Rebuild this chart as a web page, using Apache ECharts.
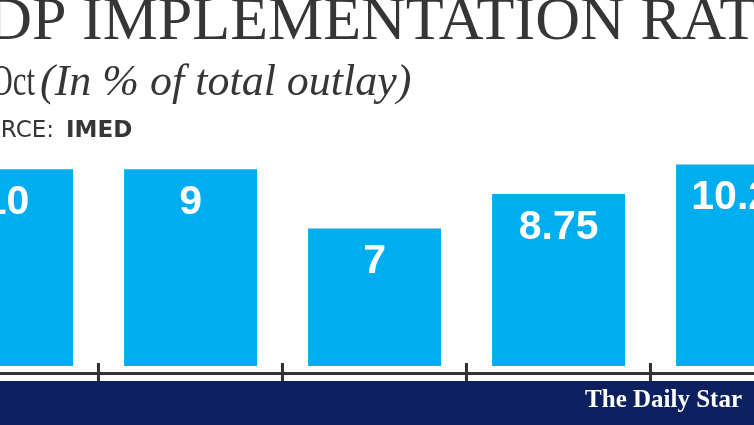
<!DOCTYPE html>
<html><head><meta charset="utf-8">
<script src="https://cdn.jsdelivr.net/npm/echarts@6/dist/echarts.min.js"></script>
<style>html,body{margin:0;padding:0;background:#fff}#c{width:754px;height:425px}</style>
</head><body><div id="c"></div>
<script>
// Data
const categories = ['P1', 'P2', 'P3', 'P4', 'P5'];
const barValues = [10, 10, 7, 8.75, 10.25];          // bar lengths as drawn
const valueLabels = ['10', '9', '7', '8.75', '10.25']; // printed values
const titleText = 'ADP IMPLEMENTATION RATE';
const periodText = 'Jul-Oct';
const unitText = '(In % of total outlay)';
const sourceLabel = 'SOURCE:';
const sourceName = 'IMED';
const brandText = 'The Daily Star';

const chart = echarts.init(document.getElementById('c'), null, {renderer: 'canvas'});
chart.setOption({
  animation: false,
  grid: {left: -85.4, width: 920, top: 130, bottom: 52, outerBoundsMode: 'none', containLabel: false},
  xAxis: [
    {type: 'category', data: categories, position: 'bottom',
     axisLine: {show: true, onZero: false, lineStyle: {color: '#333', width: 3}},
     axisTick: {show: true, inside: true, length: 10, lineStyle: {color: '#333', width: 3}},
     axisLabel: {show: false}, splitLine: {show: false}},
    {type: 'category', data: categories, position: 'bottom',
     axisLine: {show: false, onZero: false},
     axisTick: {show: true, inside: false, length: 9, lineStyle: {color: '#333', width: 3}},
     axisLabel: {show: false}, splitLine: {show: false}}
  ],
  yAxis: {type: 'value', min: -0.35, max: 12, show: false},
  series: [{
    type: 'bar', data: barValues, barWidth: 133, xAxisIndex: 0,
    itemStyle: {color: '#00aeef'},
    label: {show: true, position: 'insideTop', distance: 13, color: '#fff',
      fontFamily: '"Liberation Sans"', fontWeight: 'bold', fontSize: 41,
      formatter: p => valueLabels[p.dataIndex]}
  }],
  graphic: [
    {type: 'rect', shape: {x: 0, y: 381, width: 754, height: 44}, style: {fill: '#0c2060'}, z: 10},
    {type: 'text', x: -57.5, y: 23, style: {text: titleText, font: '62px "Liberation Serif"', fill: '#363636', align: 'left', verticalAlign: 'middle'}},
    {type: 'text', x: 35, y: 83, scaleX: 0.7, style: {text: periodText, font: '44px "Liberation Serif"', fill: '#363636', align: 'right', verticalAlign: 'middle'}},
    {type: 'text', x: 40, y: 83, style: {text: unitText, font: 'italic 44px "Liberation Serif"', fill: '#363636', align: 'left', verticalAlign: 'middle'}},
    {type: 'text', x: 54, y: 131, style: {text: sourceLabel, font: '23px "DejaVu Sans"', fill: '#363636', align: 'right', verticalAlign: 'middle'}},
    {type: 'text', x: 66, y: 131, style: {text: sourceName, font: 'bold 23px "DejaVu Sans"', fill: '#363636', align: 'left', verticalAlign: 'middle'}},
    {type: 'text', x: 742, y: 401, z: 11, style: {text: brandText, font: 'bold 25px "Liberation Serif"', fill: '#ffffff', align: 'right', verticalAlign: 'middle'}}
  ]
});
</script></body></html>
